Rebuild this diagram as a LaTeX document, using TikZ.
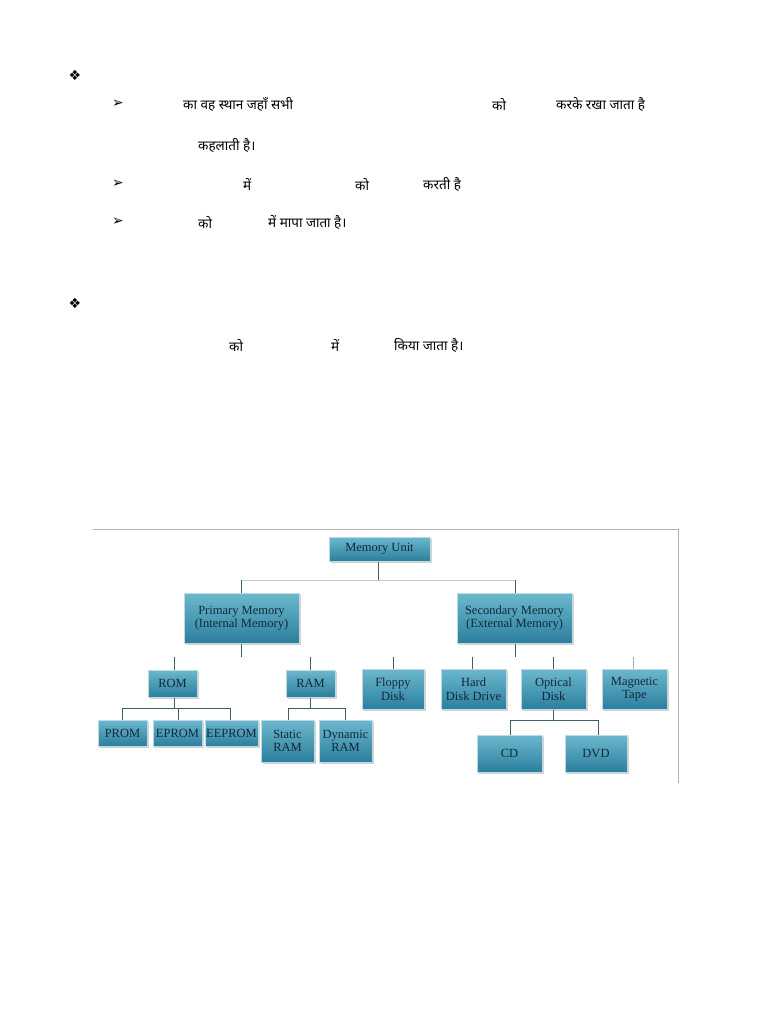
\documentclass[tikz,border=0pt]{standalone}
\usepackage{fontspec}
\setmainfont{Liberation Serif}
\newfontfamily\dev[Script=Devanagari]{Noto Sans}
\newfontfamily\djv{DejaVu Sans}
\usetikzlibrary{shadows}
\definecolor{boxtop}{HTML}{6CB8CE}
\definecolor{boxbot}{HTML}{2B7F9D}
\definecolor{boxtxt}{HTML}{14263A}
\definecolor{ln}{HTML}{3F5F66}
\tikzset{
  bx/.style={draw=white!70!boxbot, line width=0.3pt, top color=boxtop, bottom color=boxbot, drop shadow={opacity=0.35, shadow xshift=1.5pt, shadow yshift=-1.5pt}, text=boxtxt, font=\fontsize{12.5}{13.5}\selectfont, align=center, inner sep=0pt},
  hd/.style={anchor=west, font=\dev\fontsize{13.5}{14}\selectfont, inner sep=0pt},
  sym/.style={anchor=center, font=\djv\fontsize{14}{14}\selectfont, inner sep=0pt},
  cn/.style={draw=ln, line width=0.7pt}
}
\newcommand{\bxat}[6]{\node[bx, minimum width=#4-#2, minimum height=#5-#3] (#1) at ({(#2+#4)/2},{(#3+#5)/2}) {#6};}
\begin{document}
\begin{tikzpicture}[x=1pt,y=-1pt]
\useasboundingbox (0,0) rectangle (768,1024);
\fill[white] (0,0) rectangle (768,1024);
% text
\node[sym] (s1) at (75,75) {❖};
\node[sym] (a1) at (118,104) {➢};
\node[hd] (t1) at (183,104) {का वह स्थान जहाँ सभी};
\node[hd] (t2) at (492,104) {को};
\node[hd] (t3) at (556,104) {करके रखा जाता है};
\node[hd] (t4) at (198,145) {कहलाती है।};
\node[sym] (a2) at (118,184) {➢};
\node[hd] (t5) at (243,184) {में};
\node[hd] (t6) at (355,184) {को};
\node[hd] (t7) at (423,184) {करती है};
\node[sym] (a3) at (118,222) {➢};
\node[hd] (t8) at (198,222) {को};
\node[hd] (t9) at (268,222) {में मापा जाता है।};
\node[sym] (s2) at (75,303) {❖};
\node[hd] (t10) at (229,345) {को};
\node[hd] (t11) at (331,345) {में};
\node[hd] (t12) at (394,345) {किया जाता है।};
% frame
\draw[gray!60, line width=0.8pt] (93,529) -- (678,529) -- (678,783);
% connectors
\coordinate (j1) at (378,580);
\draw[cn] (378,561) -- (j1);
\draw[cn, draw=ln!30] (241,580) -- (515,580);
\draw[cn] (241,580) -- (241,593);
\draw[cn] (515,580) -- (515,593);
\draw[cn] (241,643) -- (241,657);
\draw[cn] (174,657) -- (174,670);
\draw[cn] (310,657) -- (310,670);
\draw[cn] (515,643) -- (515,657);
\draw[cn] (393,657) -- (393,669);
\draw[cn] (472,657) -- (472,669);
\draw[cn] (553,657) -- (553,669);
\draw[cn, draw=ln!50] (633,657) -- (633,669);
\draw[cn] (174,697) -- (174,708);
\draw[cn] (122,720) -- (122,708) -- (230,708) -- (230,720);
\draw[cn] (178,708) -- (178,720);
\draw[cn] (310,697) -- (310,708);
\draw[cn] (288,720) -- (288,708) -- (345,708) -- (345,720);
\draw[cn] (553,709) -- (553,720);
\draw[cn] (510,735) -- (510,720) -- (598,720) -- (598,735);
% boxes
\bxat{mu}{329}{537}{430}{561}{Memory Unit}
\bxat{pm}{184}{593}{299}{643}{Primary Memory\\(Internal Memory)}
\bxat{sm}{457}{593}{572}{643}{Secondary Memory\\(External Memory)}
\bxat{rom}{148}{670}{197}{697}{ROM}
\bxat{ram}{286}{670}{335}{697}{RAM}
\bxat{fd}{362}{669}{424}{709}{Floppy\\Disk}
\bxat{hd}{441}{669}{506}{709}{Hard\\Disk Drive}
\bxat{od}{521}{669}{586}{709}{Optical\\Disk}
\bxat{mt}{602}{669}{667}{709}{Magnetic\\Tape}
\bxat{prom}{98}{720}{147}{746}{PROM}
\bxat{eprom}{153}{720}{202}{746}{EPROM}
\bxat{eeprom}{205}{720}{258}{746}{EEPROM}
\bxat{sram}{261}{720}{314}{762}{Static\\RAM}
\bxat{dram}{319}{720}{372}{762}{Dynamic\\RAM}
\bxat{cd}{477}{735}{542}{772}{CD}
\bxat{dvd}{565}{735}{627}{772}{DVD}
\end{tikzpicture}
\end{document}
